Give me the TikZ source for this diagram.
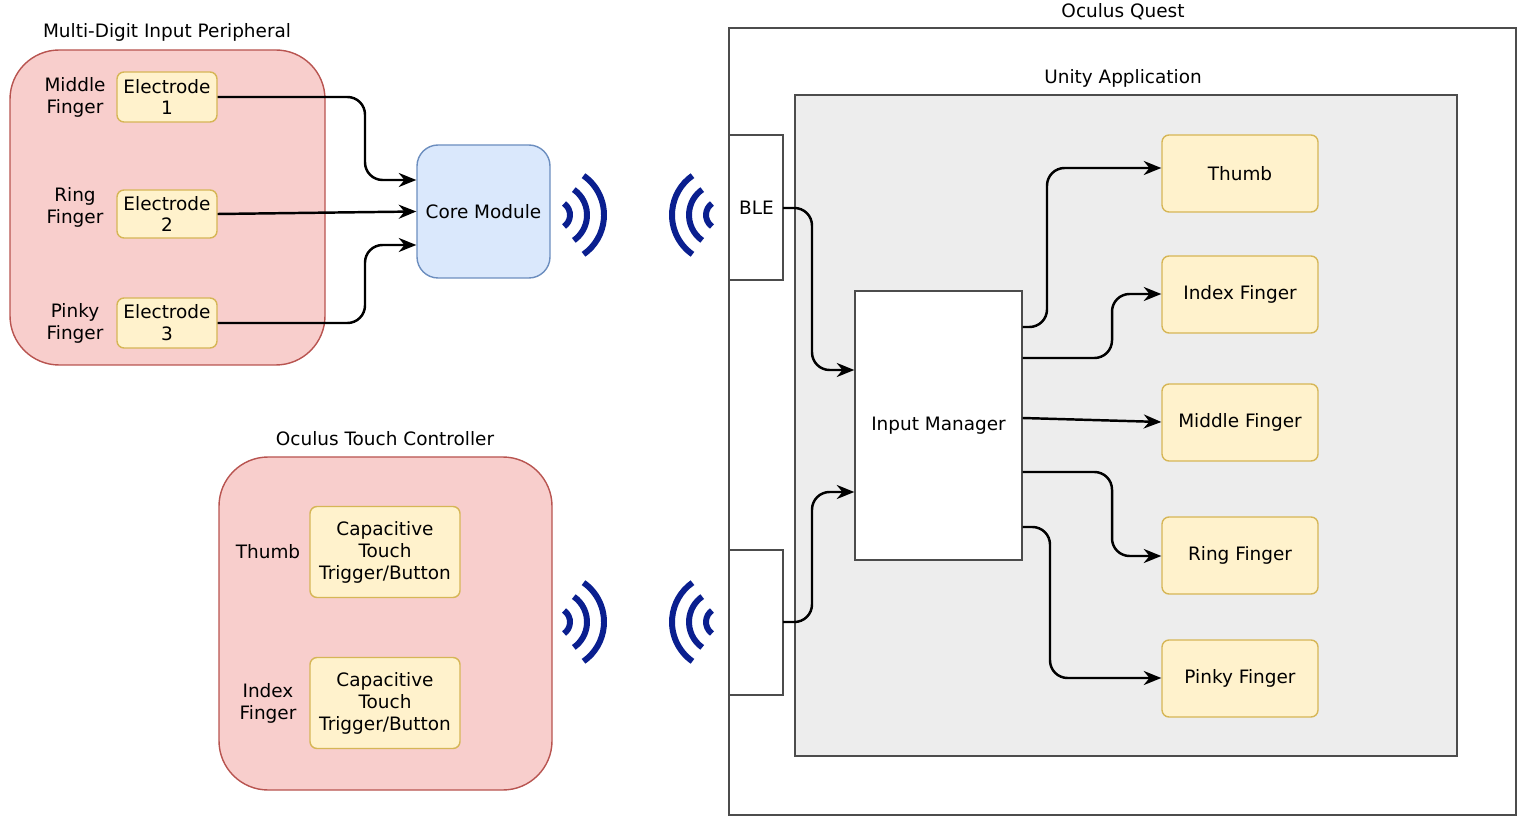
\documentclass[tikz,border=0pt]{standalone}
\usepackage{fontspec}
\setmainfont{DejaVu Sans}
\usetikzlibrary{arrows.meta}
\definecolor{pinkf}{HTML}{F8CECC}\definecolor{pinkd}{HTML}{B85450}
\definecolor{yelf}{HTML}{FFF2CC}\definecolor{yeld}{HTML}{D6B656}
\definecolor{bluf}{HTML}{DAE8FC}\definecolor{blud}{HTML}{6C8EBF}
\definecolor{navy}{HTML}{0A1F8F}
\begin{document}
\begin{tikzpicture}[x=0.02cm,y=-0.02cm,
 every node/.style={font=\fontsize{10.5}{12.5}\selectfont,align=center},
 grp/.style={draw=pinkd,fill=pinkf,rounded corners=28,line width=0.8pt},
 ybox/.style={draw=yeld,fill=yelf,rounded corners=4,line width=0.8pt},
 plain/.style={draw=black!70,fill=white,line width=0.8pt},
 conn/.style={-{Stealth[length=10pt,width=8pt]},line width=1.4pt,rounded corners=10},
 wave/.style={navy,line width=3.4pt}]
\useasboundingbox (0,0) rectangle (1533,830);
% peripheral
\node at (167,32) {Multi-Digit Input Peripheral};
\draw[grp] (10,50) rectangle (325,365);
\node[ybox,minimum width=100*0.02cm,minimum height=50*0.02cm,inner sep=0] (e1) at (167,97) {Electrode\\1};
\node[ybox,minimum width=100*0.02cm,minimum height=48*0.02cm,inner sep=0] (e2) at (167,214) {Electrode\\2};
\node[ybox,minimum width=100*0.02cm,minimum height=50*0.02cm,inner sep=0] (e3) at (167,323) {Electrode\\3};
\node (l1) at (75,97) {Middle\\Finger};
\node (l2) at (75,207) {Ring\\Finger};
\node (l3) at (75,323) {Pinky\\Finger};
\node[draw=blud,fill=bluf,rounded corners=12,line width=0.8pt,minimum width=133*0.02cm,minimum height=133*0.02cm] (core) at (483.5,211.5) {Core Module};
\draw[conn] (e1.east) -- (365,97) -- (365,180) -- (core.west|-0,180);
\draw[conn] (e2.east) -- (core.west);
\draw[conn] (e3.east) -- (365,323) -- (365,245) -- (core.west|-0,245);
% touch controller
\node at (385,439) {Oculus Touch Controller};
\draw[grp] (219,457) rectangle (552,790);
\node[ybox,minimum width=150*0.02cm,minimum height=91*0.02cm,inner sep=0] (c1) at (385,552) {Capacitive\\Touch\\Trigger/Button};
\node[ybox,minimum width=150*0.02cm,minimum height=91*0.02cm,inner sep=0] (c2) at (385,703) {Capacitive\\Touch\\Trigger/Button};
\node (t1) at (268,552) {Thumb};
\node (t2) at (268,703) {Index\\Finger};
% waves
\foreach \y in {215,622}{
 \foreach \r in {14,31,48}{
  \draw[wave] ([shift={(-55:\r)}]556,\y) arc[start angle=-55,end angle=55,radius=\r];
  \draw[wave] ([shift={(125:\r)}]720,\y) arc[start angle=125,end angle=235,radius=\r];
 }}
% quest
\node at (1123,12) {Oculus Quest};
\draw[black!70,line width=0.8pt] (729,28) rectangle (1516,815);
\node at (1123,78) {Unity Application};
\draw[black!70,fill=black!7,line width=0.8pt] (795,95) rectangle (1457,756);
\draw[plain] (729,135) rectangle (783,280);
\node[anchor=west] (ble) at (733,208) {BLE};
\coordinate (bleo) at (783,208);
\draw[plain] (729,550) rectangle (783,695);
\coordinate (ctro) at (783,622);
\node[plain,minimum width=167*0.02cm,minimum height=269*0.02cm] (im) at (938.5,425.5) {Input Manager};
\draw[conn] (bleo) -- (812,208) -- (812,370) -- (im.west|-0,370);
\draw[conn] (ctro) -- (812,622) -- (812,492) -- (im.west|-0,492);
\foreach \n/\t/\y in {th/Thumb/173.5,ix/Index Finger/294.5,md/Middle Finger/422.5,rg/Ring Finger/555.5,pk/Pinky Finger/678.5}
 \node[ybox,minimum width=156*0.02cm,minimum height=77*0.02cm] (\n) at (1240,\y) {\t};
\draw[conn] (im.east|-0,327) -- (1047,327) -- (1047,168) -- (th.west|-0,168);
\draw[conn] (im.east|-0,358) -- (1112,358) -- (1112,294) -- (ix.west|-0,294);
\draw[conn] (im.east|-0,418) -- (md.west|-0,422);
\draw[conn] (im.east|-0,472) -- (1112,472) -- (1112,556) -- (rg.west|-0,556);
\draw[conn] (im.east|-0,527) -- (1050,527) -- (1050,678) -- (pk.west|-0,678);
\end{tikzpicture}
\end{document}
